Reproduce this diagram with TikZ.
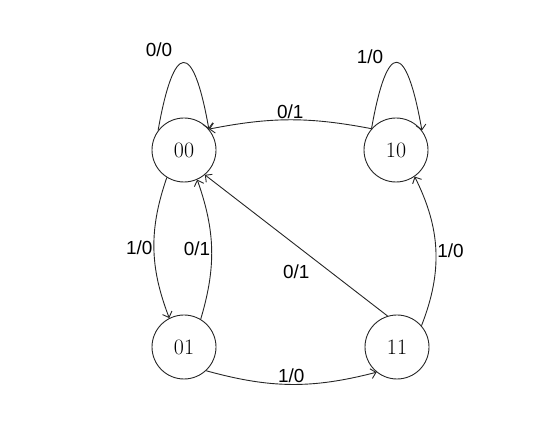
\documentclass[tikz,border=0pt]{standalone}
\usepackage{fontspec}
\newfontfamily\lblfont{Liberation Sans}
\usetikzlibrary{arrows.meta}

\begin{document}
\begin{tikzpicture}[>={Straight Barb[length=5bp,width=10bp]},join=bevel,line width=0.9bp,draw=black!85]
\tikzset{state/.style={draw,circle,minimum size=64bp,inner sep=0pt,font=\fontsize{22}{22}\selectfont},
  lbl/.style={font=\lblfont\fontsize{19}{19}\selectfont,inner sep=1bp}}
%
\useasboundingbox (0bp,0bp) rectangle (538bp,438bp);
%
  \node (s00) at (184bp,288bp) [state] {00};
  \node (s10) at (396bp,288bp) [state] {10};
  \node (s01) at (184bp,91bp) [state] {01};
  \node (s11) at (397bp,91bp) [state] {11};

  % self loops
  \draw[->] (s00.143) .. controls +(80:91bp) and +(100:91bp) .. (s00.40);
  \node (l00) at (159bp,388bp) [lbl] {0/0};
  \draw[->] (s10.139) .. controls +(80:91bp) and +(100:91bp) .. (s10.37);
  \node (l10) at (370bp,381bp) [lbl] {1/0};

  \draw[->] (s10.139) to[bend right=11] node[lbl,above] {0/1} (s00.40);
  \draw[->] (s00.238) to[bend right=20] node[lbl,left] {1/0} (s01.117);
  \draw[->] (s01.59) to[bend right=18] node[lbl,left] {0/1} (s00.294);
  \draw[->] (s11.107) -- node[lbl,below=18bp] {0/1} (s00.310);
  \draw[->] (s01.313) to[bend right=15] node[lbl,above] {1/0} (s11.231);
  \draw[->] (s11.41) to[bend right=24] node[lbl,right] {1/0} (s10.305);
%
\end{tikzpicture}
\end{document}
